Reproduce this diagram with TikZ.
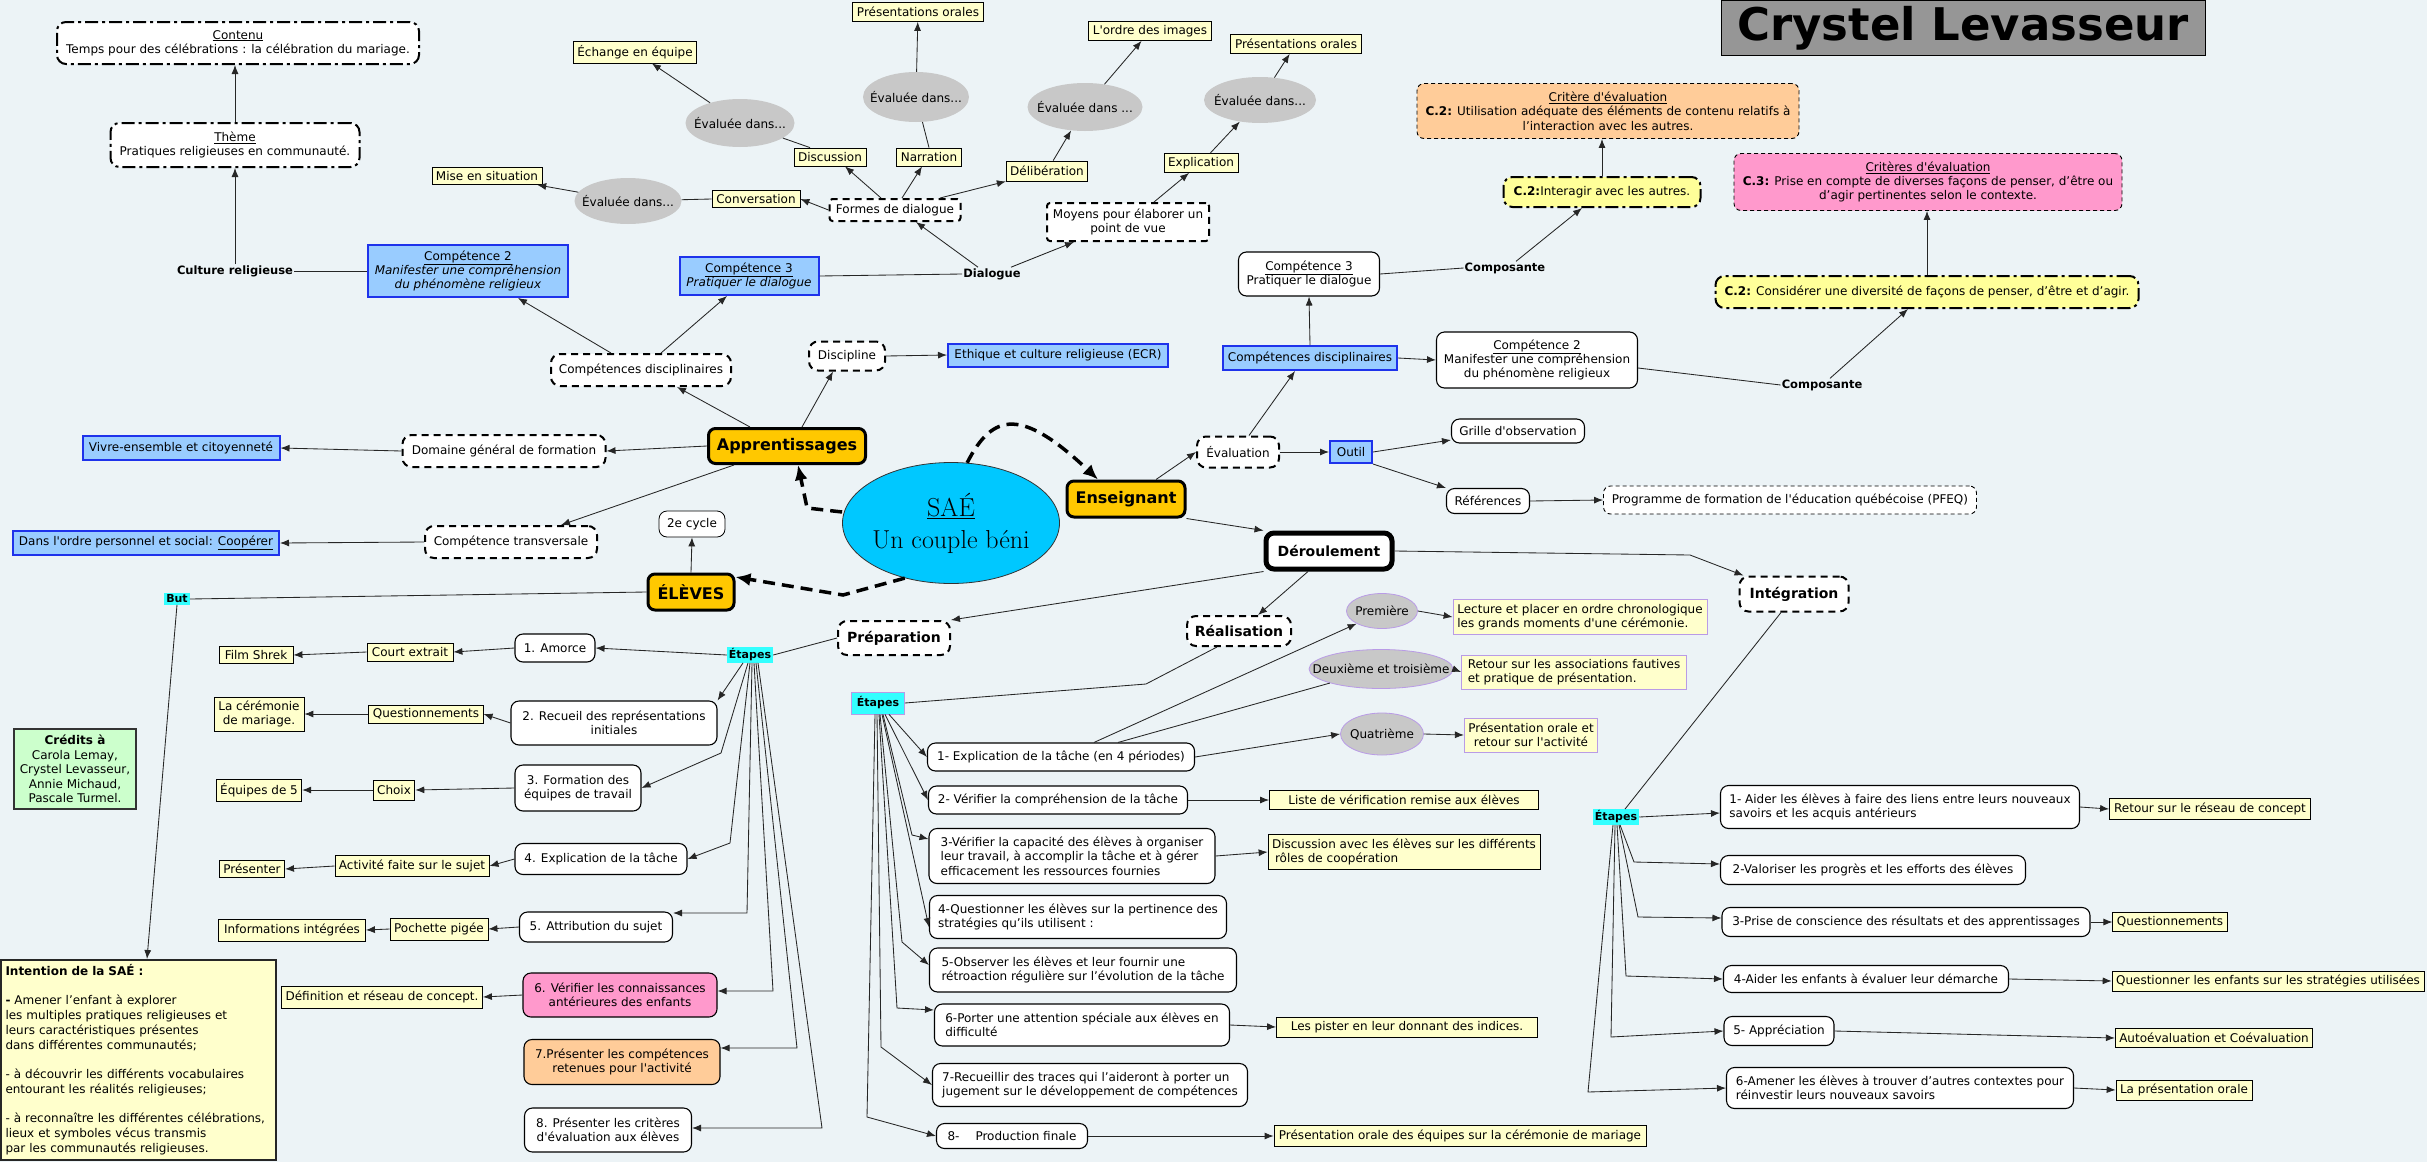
\documentclass[tikz,border=0pt]{standalone}
\usepackage{fontspec}
\newfontfamily\vf{DejaVu Sans}
\usetikzlibrary{arrows.meta,shapes.geometric}
\definecolor{bgc}{RGB}{236,243,246}
\definecolor{ylw}{RGB}{255,255,204}
\definecolor{bluefill}{RGB}{153,204,255}
\definecolor{bluebd}{RGB}{30,50,235}
\definecolor{gold}{RGB}{255,200,0}
\definecolor{grayell}{RGB}{200,200,200}
\definecolor{purp}{RGB}{185,155,230}
\definecolor{pinkfill}{RGB}{255,153,204}
\definecolor{orangefill}{RGB}{255,204,153}
\definecolor{greenfill}{RGB}{204,255,204}
\definecolor{cyanfill}{RGB}{51,255,255}
\definecolor{cyel}{RGB}{255,255,153}
\definecolor{saeblue}{RGB}{0,200,255}
\definecolor{titlegray}{RGB}{150,150,150}
\newcommand{\zwb}[1]{\makebox[0pt]{#1}}
\tikzset{
  nbase/.style={font=\vf\fontsize{12}{14.4}\selectfont, inner xsep=4pt, inner ysep=2pt, align=center},
  sz/.style 2 args={minimum width=#1pt, minimum height=#2pt},
  ybox/.style={nbase, draw=black, line width=0.8pt, fill=ylw},
  bbox/.style={nbase, draw=bluebd, line width=2pt, fill=bluefill},
  dbox/.style={nbase, draw=black, line width=2pt, dash pattern=on 7pt off 5pt, rounded corners=9pt, fill=white},
  ddbox/.style={nbase, draw=black, line width=2pt, dash pattern=on 13pt off 4pt on 3pt off 4pt, rounded corners=9pt, fill=white},
  wbox/.style={nbase, draw=black, line width=1.1pt, rounded corners=8pt, fill=white},
  tdbox/.style={nbase, draw=black, line width=0.9pt, dash pattern=on 4pt off 3pt, rounded corners=7pt, fill=white},
  gell/.style={nbase, ellipse, inner sep=0pt, fill=grayell},
  pell/.style={gell, draw=purp, line width=0.8pt},
  mainbox/.style={nbase, draw=black, line width=3pt, rounded corners=7pt, fill=gold, font=\vf\bfseries\fontsize{16}{19}\selectfont},
  bigb/.style={font=\vf\bfseries\fontsize{14}{17}\selectfont},
  lbl/.style={font=\vf\bfseries\fontsize{11.5}{14}\selectfont, inner sep=1pt},
  etq/.style={fill=cyanfill, font=\vf\bfseries\fontsize{11}{13}\selectfont, inner xsep=2pt, inner ysep=1.5pt},
  conn/.style={line width=0.85pt, draw=black!85},
  arr/.style={conn, -{Latex[length=9pt,width=7pt]}},
  bigarr/.style={line width=3.5pt, draw=black, dash pattern=on 12pt off 7pt, -{Latex[length=15pt,width=13pt]}},
}
\begin{document}
\begin{tikzpicture}[x=1pt,y=-1pt]
\path[fill=bgc, use as bounding box] (0,0) rectangle (2427,1162);

% ---------- top left ----------
\node[ddbox, sz={362}{42}] (contenu) at (238,43) {\underline{Contenu}\\Temps pour des célébrations : la célébration du mariage.};
\node[ddbox, sz={249}{44}] (theme) at (235,145) {\underline{Thème}\\Pratiques religieuses en communauté.};
\node[lbl] (culture) at (235,271) {Culture religieuse};
\node[bbox, sz={200}{52}] (comp2a) at (468,271) {\underline{Compétence 2}\\\textit{Manifester une compréhension}\\\textit{du phénomène religieux}};
\node[ybox, sz={109}{17}] (mise) at (487,176) {Mise en situation};
\node[ybox, sz={121}{22}] (echange) at (635,52) {Échange en équipe};
\node[ybox, sz={131}{19}] (presOr1) at (918,12) {Présentations orales};
\node[gell, sz={109}{48}] (evalDisc) at (740,123) {\zwb{Évaluée dans...}};
\node[gell, sz={106}{50}] (evalNarr) at (916,97) {\zwb{Évaluée dans...}};
\node[gell, sz={115}{48}] (evalDelib) at (1085,107) {\zwb{Évaluée dans ...}};
\node[ybox, sz={123}{19}] (ordre) at (1150,31) {L'ordre des images};
\node[ybox, sz={71}{18}] (discussion) at (830,157) {Discussion};
\node[ybox, sz={65}{18}] (narration) at (929,157) {Narration};
\node[ybox, sz={81}{20}] (delib) at (1047,171) {Délibération};
\node[ybox, sz={88}{17}] (conversation) at (756,199) {Conversation};
\node[gell, sz={107}{46}] (evalConv) at (628,201) {\zwb{Évaluée dans...}};
\node[dbox, sz={131}{22}, rounded corners=3pt] (formes) at (895,210) {Formes de dialogue};
\node[dbox, sz={162}{38}, rounded corners=3pt] (moyens) at (1128,222) {Moyens pour élaborer un\\point de vue};
\node[ybox, sz={74}{19}] (explic) at (1201,163) {Explication};
\node[gell, sz={112}{46}] (evalExpl) at (1260,100) {\zwb{Évaluée dans...}};
\node[ybox, sz={131}{19}] (presOr2) at (1296,44) {Présentations orales};
\node[lbl] (dialogue) at (992,274) {Dialogue};
\node[bbox, sz={139}{38}] (comp3a) at (749,276) {\underline{Compétence 3}\\\textit{Pratiquer le dialogue}};
\node[dbox, sz={180}{32}] (compdiscL) at (641,370) {Compétences disciplinaires};
\node[dbox, sz={76}{29}] (discipline) at (847,356) {Discipline};
\node[bbox, sz={220}{23}] (ecr) at (1058,355) {Ethique et culture religieuse (ECR)};

% ---------- top right ----------
\node[tdbox, fill=orangefill, sz={382}{55}] (critere) at (1608,111) {\underline{Critère d'évaluation}\\\textbf{C.2:} Utilisation adéquate des éléments de contenu relatifs à\\l’interaction avec les autres.};
\node[ddbox, fill=cyel, sz={197}{30}] (c2int) at (1602,192) {\textbf{C.2:}Interagir avec les autres.};
\node[wbox, sz={141}{44}] (comp3R) at (1309,274) {\underline{Compétence 3}\\Pratiquer le dialogue};
\node[lbl] (compos1) at (1505,268) {Composante};
\node[bbox, sz={174}{24}] (compdiscR) at (1310,358) {Compétences disciplinaires};
\node[wbox, sz={201}{56}] (comp2R) at (1537,360) {\underline{Compétence 2}\\Manifester une compréhension\\du phénomène religieux};
\node[lbl] (compos2) at (1822,385) {Composante};
\node[tdbox, fill=pinkfill, sz={388}{57}] (pink) at (1928,182) {\underline{Critères d'évaluation}\\\textbf{C.3:} Prise en compte de diverses façons de penser, d’être ou\\d’agir pertinentes selon le contexte.};
\node[ddbox, fill=cyel, sz={423}{32}] (c2cons) at (1927,292) {\textbf{C.2:} Considérer une diversité de façons de penser, d’être et d’agir.};
\node[draw=black, line width=1pt, fill=titlegray, sz={484}{55}, inner sep=0pt, font=\vf\bfseries\fontsize{45}{50}\selectfont] (title) at (1963,28) {Crystel Levasseur};

% ---------- left middle ----------
\node[bbox, sz={197}{24}] (vivre) at (181,448) {Vivre-ensemble et citoyenneté};
\node[dbox, sz={203}{32}] (domaine) at (504,451) {Domaine général de formation};
\node[bbox, sz={266}{24}] (dans) at (146,543) {Dans l'ordre personnel et social: \underline{Coopérer}};
\node[dbox, sz={172}{32}] (comptrans) at (511,542) {Compétence transversale};
\node[etq] (but) at (177,599) {But};
\node[ybox, sz={74}{17}] (shrek) at (256,655) {Film Shrek};
\node[ybox, sz={86}{18}] (court) at (410,652) {Court extrait};
\node[wbox, sz={80}{28}] (amorce) at (555,648) {1. Amorce};
\node[ybox, sz={90}{34}] (ceremonie) at (259,714) {La cérémonie\\de mariage.};
\node[ybox, sz={113}{18}] (questL) at (426,714) {Questionnements};
\node[wbox, sz={206}{44}] (recueil) at (614,723) {2. Recueil des représentations\\initiales};
\node[ybox, sz={85}{22}] (equipes) at (259,790) {Équipes de 5};
\node[ybox, sz={41}{20}] (choix) at (394,790) {Choix};
\node[wbox, sz={126}{46}] (formation) at (578,788) {3. Formation des\\équipes de travail};
\node[nbase, draw=black!80, line width=2pt, fill=greenfill, sz={122}{80}, inner sep=1pt] (credits) at (75,769) {\textbf{Crédits à}\\Carola Lemay,\\Crystel Levasseur,\\Annie Michaud,\\Pascale Turmel.};
\node[ybox, sz={65}{17}] (presenter) at (252,869) {Présenter};
\node[ybox, sz={154}{21}] (activite) at (412,866) {Activité faite sur le sujet};
\node[wbox, sz={172}{31}] (expl4) at (601,859) {4. Explication de la tâche};
\node[ybox, sz={147}{22}] (infos) at (292,930) {Informations intégrées};
\node[ybox, sz={98}{22}] (pochette) at (439,929) {Pochette pigée};
\node[wbox, sz={153}{30}] (attrib) at (596,927) {5. Attribution du sujet};
\node[ybox, sz={201}{22}] (definition) at (382,997) {Définition et réseau de concept.};
\node[wbox, fill=pinkfill, sz={194}{44}] (verif6) at (620,995) {6. Vérifier les connaissances\\antérieures des enfants};
\node[wbox, fill=orangefill, sz={196}{45}] (pres7) at (622,1062) {7.Présenter les compétences\\retenues pour l'activité};
\node[wbox, sz={167}{44}] (pres8) at (608,1130) {8. Présenter les critères\\d'évaluation aux élèves};
\node[nbase, draw=black!85, line width=2pt, fill=ylw, sz={275}{200}, align=left, text width=265pt, font=\vf\fontsize{12}{15}\selectfont] (intention) at (138,1060) {\textbf{Intention de la SAÉ :}\\[14pt]\textbf{-} Amener l’enfant à explorer\\les multiples pratiques religieuses et\\leurs caractéristiques présentes\\dans différentes communautés;\\[14pt]- à découvrir les différents vocabulaires\\entourant les réalités religieuses;\\[14pt]- à reconnaître les différentes célébrations,\\lieux et symboles vécus transmis\\par les communautés religieuses.};

% ---------- centre ----------
\node[mainbox, sz={157}{35}] (appr) at (787,446) {Apprentissages};
\node[ellipse, draw=black!80, line width=0.8pt, fill=saeblue, sz={217}{121}, inner sep=0pt, align=center, font=\rmfamily\fontsize{26}{32}\selectfont] (sae) at (951,523) {\zwb{\underline{SAÉ}}\\\zwb{Un couple béni}};
\node[mainbox, sz={118}{36}] (enseignant) at (1126,499) {Enseignant};
\node[wbox, line width=0.8pt, sz={66}{26}] (cycle) at (692,524) {2e cycle};
\node[mainbox, sz={86}{36}] (eleves) at (691,592) {ÉLÈVES};
\node[dbox, bigb, sz={112}{34}] (prep) at (894,638) {Préparation};
\node[etq] (etapesL) at (750,655) {Étapes};
\node[etq, draw=purp, line width=0.8pt, sz={53}{22}] (etapesM) at (878,703) {Étapes};
\node[wbox, sz={267}{28}] (un) at (1061,757) {1- Explication de la tâche (en 4 périodes)};

% ---------- enseignant side ----------
\node[dbox, sz={82}{31}] (evaluation) at (1238,452) {Évaluation};
\node[bbox, sz={42}{22}, inner xsep=2pt] (outil) at (1351,452) {Outil};
\node[wbox, sz={133}{24}] (grille) at (1518,431) {Grille d'observation};
\node[wbox, sz={83}{25}] (refs) at (1488,501) {Références};
\node[tdbox, sz={373}{28}] (pfeq) at (1790,500) {Programme de formation de l'éducation québécoise (PFEQ)};
\node[nbase, bigb, draw=black, line width=5pt, rounded corners=8pt, fill=white, sz={126}{36}] (derou) at (1329,551) {Déroulement};
\node[dbox, bigb, sz={104}{30}] (realis) at (1239,631) {Réalisation};
\node[dbox, bigb, sz={109}{35}] (integ) at (1794,594) {Intégration};
\node[pell, sz={71}{35}] (premiere) at (1382,611) {\zwb{Première}};
\node[ybox, draw=purp, align=left, sz={254}{35}] (lecture) at (1580,617) {Lecture et placer en ordre chronologique\\les grands moments d'une cérémonie.};
\node[pell, sz={144}{39}] (deux) at (1381,669) {\zwb{Deuxième et troisième}};
\node[ybox, draw=purp, align=left, sz={225}{34}] (retour) at (1574,672) {Retour sur les associations fautives\\et pratique de présentation.};
\node[pell, sz={83}{42}] (quatre) at (1382,734) {\zwb{Quatrième}};
\node[ybox, draw=purp, sz={133}{34}] (presRet) at (1531,735) {Présentation orale et\\retour sur l'activité};

% ---------- middle steps ----------
\node[wbox, sz={259}{28}] (m2) at (1058,800) {2- Vérifier la compréhension de la tâche};
\node[wbox, align=left, sz={286}{55}] (m3) at (1072,856) {3-Vérifier la capacité des élèves à organiser\\leur travail, à accomplir la tâche et à gérer\\efficacement les ressources fournies};
\node[wbox, align=left, sz={297}{43}] (m4) at (1078,917) {4-Questionner les élèves sur la pertinence des\\stratégies qu’ils utilisent :};
\node[wbox, align=left, sz={307}{44}] (m5) at (1083,970) {5-Observer les élèves et leur fournir une\\rétroaction régulière sur l’évolution de la tâche};
\node[wbox, align=left, sz={295}{42}] (m6) at (1082,1025) {6-Porter une attention spéciale aux élèves en\\difficulté};
\node[wbox, align=left, sz={315}{43}] (m7) at (1090,1085) {7-Recueillir des traces qui l’aideront à porter un\\jugement sur le développement de compétences};
\node[wbox, sz={151}{25}] (m8) at (1012,1136) {8-\hspace{16pt}Production finale};
\node[ybox, sz={269}{19}] (liste) at (1404,800) {Liste de vérification remise aux élèves};
\node[ybox, align=left, sz={271}{35}] (discAvec) at (1404,852) {Discussion avec les élèves sur les différents\\\hspace*{3pt}rôles de coopération};
\node[ybox, sz={261}{20}] (pister) at (1407,1027) {Les pister en leur donnant des indices.};
\node[ybox, sz={372}{21}] (presEq) at (1460,1136) {Présentation orale des équipes sur la cérémonie de mariage};

% ---------- integration steps ----------
\node[etq] (etapesR) at (1616,817) {Étapes};
\node[wbox, align=left, sz={359}{43}] (r1) at (1900,807) {1- Aider les élèves à faire des liens entre leurs nouveaux\\savoirs et les acquis antérieurs};
\node[wbox, sz={305}{29}] (r2) at (1873,870) {2-Valoriser les progrès et les efforts des élèves};
\node[wbox, sz={368}{29}] (r3) at (1906,922) {3-Prise de conscience des résultats et des apprentissages};
\node[wbox, sz={285}{27}] (r4) at (1866,979) {4-Aider les enfants à évaluer leur démarche};
\node[wbox, sz={110}{29}] (r5) at (1779,1031) {5- Appréciation};
\node[wbox, align=left, sz={347}{41}] (r6) at (1900,1088) {6-Amener les élèves à trouver d’autres contextes pour\\réinvestir leurs nouveaux savoirs};
\node[ybox, sz={201}{21}] (retourRes) at (2210,809) {Retour sur le réseau de concept};
\node[ybox, sz={113}{19}] (questR) at (2170,922) {Questionnements};
\node[ybox, sz={311}{20}] (questionner) at (2268,981) {Questionner les enfants sur les stratégies utilisées};
\node[ybox, sz={197}{19}] (autoev) at (2214,1038) {Autoévaluation et Coévaluation};
\node[ybox, sz={135}{20}] (laPres) at (2184,1090) {La présentation orale};

% ---------- bend coordinates ----------
\coordinate (bElev) at (843,595);
\coordinate (bInt) at (1690,555);
\coordinate (bL3) at (721,753);
\coordinate (bL4) at (730,843);
\coordinate (bL5) at (747,913);
\coordinate (bL6) at (773,991);
\coordinate (bL7) at (797,1048);
\coordinate (bL8) at (822,1128);
\coordinate (bR) at (1146,684);
\coordinate (bM3) at (912,835);
\coordinate (bM5) at (902,942);
\coordinate (bM6) at (897,1008);
\coordinate (bM7) at (881,1047);
\coordinate (bM8) at (867,1117);
\coordinate (bR2) at (1634,862);
\coordinate (bR3) at (1638,917);
\coordinate (bR4) at (1626,976);
\coordinate (bR5) at (1611,1037);
\coordinate (bR6) at (1588,1092);

% ---------- connectors: top left ----------
\draw[arr] (culture.north) -- (theme.south);
\draw[arr] (theme.north) -- (theme.north |- contenu.south);
\draw[conn] (culture.east) -- (comp2a.west);
\draw[arr] ([xshift=-30pt]compdiscL.north) -- ([xshift=50pt]comp2a.south);
\draw[arr] ([xshift=20pt]compdiscL.north) -- ([xshift=-22pt]comp3a.south);
\draw[conn] (comp3a.east) -- (dialogue.west);
\draw[arr] ([xshift=-14pt]dialogue.north) -- ([xshift=21pt]formes.south);
\draw[arr] ([xshift=19pt]dialogue.north) -- ([xshift=-54pt]moyens.south);
\draw[arr] (formes.west) -- (conversation.east);
\draw[arr] ([xshift=-14pt]formes.north) -- ([xshift=15pt]discussion.south);
\draw[arr] ([xshift=7pt]formes.north) -- ([xshift=-7pt]narration.south);
\draw[arr] ([xshift=45pt]formes.north) -- (delib.south west);
\draw[conn] (conversation.west) -- (evalConv);
\draw[arr] (evalConv) -- (mise);
\draw[conn] ([xshift=-20pt]discussion.north) -- (evalDisc);
\draw[arr] (evalDisc) -- (echange);
\draw[conn] (narration.north) -- (evalNarr);
\draw[arr] (evalNarr) -- (presOr1);
\draw[arr] (delib) -- (evalDelib);
\draw[arr] (evalDelib) -- (ordre);
\draw[arr] ([xshift=26pt]moyens.north) -- (explic);
\draw[arr] (explic) -- (evalExpl);
\draw[arr] (evalExpl) -- (presOr2);

% ---------- apprentissages ----------
\draw[arr] ([xshift=-37pt]appr.north) -- ([xshift=36pt]compdiscL.south);
\draw[arr] ([xshift=15pt]appr.north) -- ([xshift=-14pt]discipline.south);
\draw[arr] (discipline.east) -- (ecr.west);
\draw[arr] (appr.west) -- (domaine.east);
\draw[arr] (domaine.west) -- (vivre.east);
\draw[arr] ([xshift=-53pt]appr.south) -- ([xshift=50pt]comptrans.north);
\draw[arr] (comptrans.west) -- (dans.east);

% ---------- SAE ----------
\draw[bigarr] ([yshift=11pt]sae.west) -- ++(-35,-4) -- ([xshift=11pt]appr.south);
\draw[bigarr] (sae.230) -- (bElev) -- ([yshift=15pt]eleves.east);
\draw[bigarr] (sae.75) .. controls (993,412) and (1022,408) .. ([xshift=-28pt]enseignant.north);
\draw[arr] (eleves.north) -- (cycle.south);
\draw[conn] (eleves.west) -- (but.east);
\draw[arr] (but.south) -- ([xshift=9pt]intention.north);

% ---------- enseignant ----------
\draw[arr] ([xshift=30pt]enseignant.north) -- (evaluation.west);
\draw[arr] ([xshift=11pt]evaluation.north) -- ([xshift=-15pt]compdiscR.south);
\draw[arr] (compdiscR.north) -- (comp3R.south);
\draw[arr] (compdiscR.east) -- (comp2R.west);
\draw[conn] (comp3R.east) -- (compos1.west);
\draw[arr] ([xshift=11pt]compos1.north) -- ([xshift=-20pt]c2int.south);
\draw[arr] (c2int.north) -- (c2int.north |- critere.south);
\draw[conn] ([yshift=-8pt]comp2R.east) -- (compos2.west);
\draw[arr] ([xshift=8pt]compos2.north) -- ([xshift=-19pt]c2cons.south);
\draw[arr] (c2cons.north) -- (c2cons.north |- pink.south);
\draw[arr] (evaluation.east) -- (outil.west);
\draw[arr] (outil.east) -- ([yshift=-9pt]grille.west);
\draw[arr] (outil.south east) -- (refs.north west);
\draw[arr] (refs.east) -- (pfeq.west);

% ---------- deroulement ----------
\draw[arr] (enseignant.south east) -- (derou.north west);
\draw[arr] (derou.south west) -- (prep.north east);
\draw[arr] ([xshift=-21pt]derou.south) -- ([xshift=19pt]realis.north);
\draw[arr] (derou.east) -- (bInt) -- ([xshift=5pt]integ.north west);

% ---------- preparation ----------
\draw[conn] (prep.west) -- (etapesL.east);
\draw[arr] (etapesL.west) -- (amorce.east);
\draw[arr] ([xshift=-7pt]etapesL.south) -- (recueil.north east);
\draw[arr] ([xshift=-2pt]etapesL.south) -- (bL3) -- (formation.east);
\draw[arr] (etapesL.south) -- (bL4) -- (expl4.east);
\draw[arr] ([xshift=2pt]etapesL.south) -- (bL5) -- (bL5 -| attrib.east);
\draw[arr] ([xshift=4pt]etapesL.south) -- (bL6) -- (bL6 -| verif6.east);
\draw[arr] ([xshift=6pt]etapesL.south) -- (bL7) -- (bL7 -| pres7.east);
\draw[arr] ([xshift=8pt]etapesL.south) -- (bL8) -- (bL8 -| pres8.east);
\draw[arr] (amorce.west) -- (court.east);
\draw[arr] (court.west) -- (shrek.east);
\draw[arr] (recueil.west) -- (questL.east);
\draw[arr] (questL.west) -- (ceremonie.east);
\draw[arr] (formation.west) -- (choix.east);
\draw[arr] (choix.west) -- (equipes.east);
\draw[arr] (expl4.west) -- (activite.east);
\draw[arr] (activite.west) -- (presenter.east);
\draw[arr] (attrib.west) -- (pochette.east);
\draw[arr] (pochette.west) -- (infos.east);
\draw[arr] (verif6.west) -- (definition.east);

% ---------- realisation ----------
\draw[conn] ([xshift=-22pt]realis.south) -- (bR) -- (etapesM.east);
\draw[arr] ([xshift=11pt]etapesM.south) -- (un.west);
\draw[arr] ([xshift=7pt]etapesM.south) -- (m2.west);
\draw[arr] ([xshift=5pt]etapesM.south) -- (bM3) -- ([yshift=17pt]m3.west);
\draw[arr] ([xshift=4pt]etapesM.south) -- ([yshift=-10pt]m4.west);
\draw[arr] ([xshift=2pt]etapesM.south) -- (bM5) -- ([yshift=5pt]m5.west);
\draw[arr] ([xshift=1pt]etapesM.south) -- (bM6) -- ([yshift=15pt]m6.west);
\draw[arr] ([xshift=-1pt]etapesM.south) -- (bM7) -- (m7.west);
\draw[arr] ([xshift=-3pt]etapesM.south) -- (bM8) -- (m8.west);
\draw[arr] (m2.east) -- (liste.west);
\draw[arr] (m3.east) -- (discAvec.west);
\draw[arr] (m6.east) -- (pister.west);
\draw[arr] (m8.east) -- (presEq.west);
\draw[arr] ([xshift=33pt]un.north) -- (premiere.south west);
\draw[conn] ([xshift=57pt]un.north) -- (deux.south west);
\draw[arr] (un.east) -- (quatre.west);
\draw[arr] (premiere.east) -- (lecture.west);
\draw[arr] (deux.east) -- (retour.west);
\draw[arr] (quatre.east) -- (presRet.west);

% ---------- integration ----------
\draw[conn] ([xshift=-13pt]integ.south) -- ([xshift=9pt]etapesR.north);
\draw[arr] (etapesR.east) -- ([yshift=-6pt]r1.west);
\draw[arr] ([xshift=4pt]etapesR.south) -- (bR2) -- ([yshift=6pt]r2.west);
\draw[arr] ([xshift=3pt]etapesR.south) -- (bR3) -- ([yshift=4pt]r3.west);
\draw[arr] ([xshift=1pt]etapesR.south) -- (bR4) -- (r4.west);
\draw[arr] ([xshift=-1pt]etapesR.south) -- (bR5) -- (r5.west);
\draw[arr] ([xshift=-3pt]etapesR.south) -- (bR6) -- (r6.west);
\draw[arr] (r1.east) -- (retourRes.west);
\draw[arr] (r3.east) -- (questR.west);
\draw[arr] (r4.east) -- (questionner.west);
\draw[arr] (r5.east) -- (autoev.west);
\draw[arr] (r6.east) -- (laPres.west);
\end{tikzpicture}
\end{document}
